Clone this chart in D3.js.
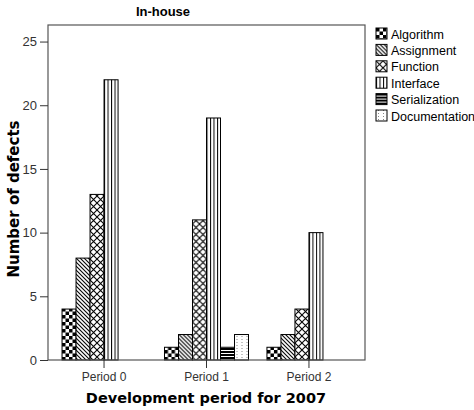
<!DOCTYPE html>
<html>
<head>
<meta charset="utf-8">
<script src="https://cdn.jsdelivr.net/npm/d3@7"></script>
<style>
  body { margin: 0; background: #fff; }
  svg { display: block; font-family: "Liberation Sans", Arial, sans-serif; }
</style>
</head>
<body>
<div id="chart"></div>
<script>
// ---- data ----
var periods = ['Period 0', 'Period 1', 'Period 2'];
var defectTypes = ['Algorithm', 'Assignment', 'Function', 'Interface', 'Serialization', 'Documentation'];
var algorithm     = [4, 1, 1];
var assignment    = [8, 2, 2];
var functionVals  = [13, 11, 4];
var interfaceVals = [22, 19, 10];
var serialization = [0, 1, 0];
var documentation = [0, 2, 0];
var yTicks = [0, 5, 10, 15, 20, 25];

var seriesValues = [algorithm, assignment, functionVals, interfaceVals, serialization, documentation];

var width = 474, height = 410;
var margin = {left: 48, right: 109, top: 25, bottom: 50};

var svg = d3.select('#chart').append('svg')
  .attr('width', width)
  .attr('height', height);

// ---- patterns ----
var defs = svg.append('defs');

// checkerboard
var p = defs.append('pattern').attr('id', 'pat0').attr('patternUnits', 'userSpaceOnUse')
  .attr('width', 7).attr('height', 7);
p.append('rect').attr('width', 7).attr('height', 7).attr('fill', '#fff');
p.append('rect').attr('width', 3.5).attr('height', 3.5).attr('fill', '#000');
p.append('rect').attr('x', 3.5).attr('y', 3.5).attr('width', 3.5).attr('height', 3.5).attr('fill', '#000');

// diagonal "\\" lines
p = defs.append('pattern').attr('id', 'pat1').attr('patternUnits', 'userSpaceOnUse')
  .attr('width', 4).attr('height', 4);
p.append('rect').attr('width', 4).attr('height', 4).attr('fill', '#fff');
p.append('path').attr('d', 'M-1,-1 L5,5 M-1,3 L1,5 M3,-1 L5,1')
  .attr('stroke', '#000').attr('stroke-width', 1.1);

// crosshatch (diamonds)
p = defs.append('pattern').attr('id', 'pat2').attr('patternUnits', 'userSpaceOnUse')
  .attr('width', 7).attr('height', 7);
p.append('rect').attr('width', 7).attr('height', 7).attr('fill', '#fff');
p.append('path').attr('d', 'M0,0 L7,7 M7,0 L0,7')
  .attr('stroke', '#000').attr('stroke-width', 1.1);

// vertical lines
p = defs.append('pattern').attr('id', 'pat3').attr('patternUnits', 'userSpaceOnUse')
  .attr('width', 3.5).attr('height', 4);
p.append('rect').attr('width', 3.5).attr('height', 4).attr('fill', '#fff');
p.append('rect').attr('x', 0).attr('width', 1).attr('height', 4).attr('fill', '#000');

// horizontal heavy lines
p = defs.append('pattern').attr('id', 'pat4').attr('patternUnits', 'userSpaceOnUse')
  .attr('width', 4).attr('height', 3);
p.append('rect').attr('width', 4).attr('height', 3).attr('fill', '#fff');
p.append('rect').attr('width', 4).attr('height', 2).attr('fill', '#000');

// dotted vertical lines
p = defs.append('pattern').attr('id', 'pat5').attr('patternUnits', 'userSpaceOnUse')
  .attr('width', 5).attr('height', 3);
p.append('rect').attr('width', 5).attr('height', 3).attr('fill', '#fff');
p.append('rect').attr('x', 2).attr('width', 1).attr('height', 1).attr('fill', '#888');

// ---- scales ----
var x0 = d3.scaleBand()
  .domain(periods)
  .range([margin.left, width - margin.right])
  .paddingInner(0.18)
  .paddingOuter(0.137);

var x1 = d3.scaleBand()
  .domain(defectTypes)
  .range([0, x0.bandwidth()]);

var y = d3.scaleLinear()
  .domain([0, 26.3])
  .range([height - margin.bottom, margin.top]);

// ---- bars ----
var groups = svg.append('g').selectAll('g')
  .data(periods)
  .join('g')
  .attr('transform', function(d) { return 'translate(' + x0(d) + ',0)'; });

groups.selectAll('rect')
  .data(function(d, i) {
    return defectTypes.map(function(t, j) { return {type: t, idx: j, value: seriesValues[j][i]}; })
      .filter(function(o) { return o.value > 0; });
  })
  .join('rect')
  .attr('x', function(d) { return x1(d.type); })
  .attr('y', function(d) { return y(d.value); })
  .attr('width', x1.bandwidth())
  .attr('height', function(d) { return y(0) - y(d.value); })
  .attr('fill', function(d) { return 'url(#pat' + d.idx + ')'; })
  .attr('stroke', '#000')
  .attr('stroke-width', 1);

// ---- frame ----
svg.append('rect')
  .attr('x', margin.left).attr('y', margin.top)
  .attr('width', width - margin.right - margin.left)
  .attr('height', height - margin.bottom - margin.top)
  .attr('fill', 'none')
  .attr('stroke', '#555')
  .attr('stroke-width', 1.2);

// ---- axes ----
var yAxis = svg.append('g')
  .attr('transform', 'translate(' + margin.left + ',0)')
  .call(d3.axisLeft(y).tickValues(yTicks).tickSize(8).tickPadding(3));
yAxis.select('.domain').remove();
yAxis.selectAll('line').attr('stroke', '#333');
yAxis.selectAll('text').attr('font-size', 13).attr('fill', '#333')
  .attr('font-family', '"Liberation Sans", Arial, sans-serif');

var xAxis = svg.append('g')
  .attr('transform', 'translate(0,' + (height - margin.bottom) + ')')
  .call(d3.axisBottom(x0).tickSize(8).tickPadding(4));
xAxis.select('.domain').remove();
xAxis.selectAll('line').attr('stroke', '#333');
xAxis.selectAll('text').attr('font-size', 12).attr('fill', '#333')
  .attr('font-family', '"Liberation Sans", Arial, sans-serif');

// ---- titles ----
svg.append('text')
  .attr('x', 163).attr('y', 16)
  .attr('text-anchor', 'middle')
  .attr('font-size', 13).attr('font-weight', 'bold')
  .text('In-house');

svg.append('text')
  .attr('transform', 'translate(19,199) rotate(-90)')
  .attr('text-anchor', 'middle')
  .attr('font-family', '"DejaVu Sans", Verdana, sans-serif')
  .attr('font-size', 15).attr('font-weight', 'bold')
  .text('Number of defects');

svg.append('text')
  .attr('x', 206).attr('y', 403)
  .attr('text-anchor', 'middle')
  .attr('font-family', '"DejaVu Sans", Verdana, sans-serif')
  .attr('font-size', 14.5).attr('font-weight', 'bold')
  .text('Development period for 2007');

// ---- legend ----
var legend = svg.append('g').attr('transform', 'translate(376,28)');
var items = legend.selectAll('g')
  .data(defectTypes)
  .join('g')
  .attr('transform', function(d, i) { return 'translate(0,' + (i * 16.4) + ')'; });
items.append('rect')
  .attr('width', 11).attr('height', 11)
  .attr('fill', function(d, i) { return 'url(#pat' + i + ')'; })
  .attr('stroke', '#000');
items.append('text')
  .attr('x', 15).attr('y', 10.5)
  .attr('font-size', 12.5)
  .text(function(d) { return d; });
</script>
</body>
</html>
